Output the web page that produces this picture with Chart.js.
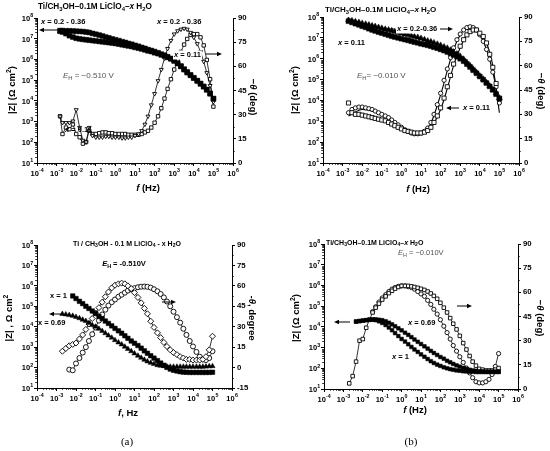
<!DOCTYPE html>
<html lang="en">
<head>
<meta charset="UTF-8">
<script src="https://cdn.jsdelivr.net/npm/chart.js"></script>
<title>Bode plots Ti / CH3OH</title>
<style>
    body { margin: 0; background: #fff; }
    .page { position: relative; width: 550px; height: 451px; overflow: hidden; }
    canvas { position: absolute; }
    .cap { position: absolute; width: 40px; margin-left: -20px; text-align: center; will-change: transform;
           font-family: 'Liberation Serif', 'Times New Roman', serif; font-size: 11px; color: #000; }
</style>
</head>
<body>
<div class="page">
    <canvas id="cTL" width="275" height="200" style="left:0;top:0"></canvas>
    <canvas id="cTR" width="275" height="200" style="left:275px;top:0"></canvas>
    <canvas id="cBL" width="275" height="200" style="left:0;top:225px"></canvas>
    <canvas id="cBR" width="275" height="200" style="left:275px;top:225px"></canvas>
    <div class="cap" style="left:127px;top:435px">(a)</div>
    <div class="cap" style="left:411px;top:435px">(b)</div>
</div>
<script>
// frequency grid of the measurements (Hz), 6 points per decade
const freq = [0.0015, 0.002, 0.003, 0.0045, 0.0068, 0.01, 0.015, 0.022, 0.032, 0.046, 0.068, 0.1,
              0.15, 0.22, 0.32, 0.46, 0.68, 1, 1.5, 2.2, 3.2, 4.6, 6.8, 10,
              15, 22, 32, 46, 68, 100, 150, 220, 320, 460, 680, 1000,
              1500, 2200, 3200, 4600, 6800, 10000, 15000, 22000, 32000, 46000, 68000, 100000];

// axis ticks
const freqTicks = [1e-4, 1e-3, 1e-2, 1e-1, 1, 10, 100, 1e3, 1e4, 1e5, 1e6];
const zTicks = [10, 100, 1e3, 1e4, 1e5, 1e6, 1e7, 1e8];
const phaseTicks = [0, 15, 30, 45, 60, 75, 90];
const phaseTicksBL = [-15, 0, 15, 30, 45, 60, 75, 90];

// (a) top: E_H = -0.510 V, |Z| (Ohm cm2), x = 0.2 - 0.36
const tlZ1 = [2.45e7, 2.45e7, 2.4e7, 2.4e7, 2.35e7, 2.3e7,
              2.25e7, 2.2e7, 2.1e7, 2.0e7, 1.8e7, 1.65e7,
              1.5e7, 1.35e7, 1.2e7, 1.1e7, 9.8e6, 8.9e6,
              8.1e6, 7.2e6, 6.6e6, 5.9e6, 5.4e6, 4.8e6,
              4.3e6, 3.8e6, 3.4e6, 3.0e6, 2.7e6, 2.4e6,
              2.1e6, 1.8e6, 1.6e6, 1.35e6, 1.1e6, 8.7e5,
              6.6e5, 4.8e5, 3.4e5, 2.5e5, 1.8e5, 1.3e5,
              9.5e4, 6.9e4, 5.0e4, 3.5e4, 2.3e4, 1.3e4];
const tlZ2 = [2.3e7, 2.1e7, 1.75e7, 1.4e7, 1.2e7, 1.05e7,
              9.8e6, 9.3e6, 8.9e6, 8.5e6, 8.1e6, 7.8e6,
              7.4e6, 7.1e6, 6.8e6, 6.5e6, 6.2e6, 5.9e6,
              5.5e6, 5.1e6, 4.8e6, 4.5e6, 4.2e6, 3.8e6,
              3.5e6, 3.2e6, 2.9e6, 2.6e6, 2.4e6, 2.1e6,
              1.9e6, 1.65e6, 1.45e6, 1.25e6, 1.07e6, 8.5e5,
              6.3e5, 4.6e5, 3.2e5, 2.3e5, 1.7e5, 1.25e5,
              9.1e4, 6.6e4, 4.8e4, 3.4e4, 2.2e4, 1.25e4];
// (a) top: -theta (deg)
const tlP1 = [29, 25, 25, 25, 26, 33,
              22, 14, 13, 22, 17, 16,
              16, 16, 16.5, 16.5, 16, 16,
              16, 15.5, 15.5, 16, 16, 17,
              18, 20, 24, 29, 36, 43,
              51, 58, 65, 71, 76, 80,
              82, 83, 83.5, 83, 81, 78,
              74, 69, 63, 56, 48, 38];
const tlP2 = [29, 18, 22, 21, 24, 18,
              16, 12, 13, 20, 18, 18,
              18.5, 19, 19, 18.5, 18.5, 18,
              18, 18, 18, 17.5, 17.5, 17.5,
              17.5, 18, 19, 20, 22, 25,
              29, 34, 40, 46, 52, 58,
              64, 69, 73.5, 77, 79.5, 80,
              80, 78, 73, 64, 52, 35];

// (b) top: E_H = -0.010 V, |Z|: x = 0.11 and x = 0.2-0.36
const trZ1 = [null, 7.1e7, 6.6e7, 6.0e7, 5.5e7, 5.0e7,
              4.6e7, 4.2e7, 3.8e7, 3.5e7, 3.2e7, 2.9e7,
              2.6e7, 2.4e7, 2.2e7, 2.0e7, 1.8e7, 1.65e7,
              1.5e7, 1.4e7, 1.25e7, 1.15e7, 1.05e7, 9.5e6,
              8.3e6, 7.1e6, 6.5e6, 5.8e6, 5.0e6, 4.4e6,
              3.7e6, 3.2e6, 2.6e6, 2.1e6, 1.7e6, 1.3e6,
              9.5e5, 6.6e5, 4.6e5, 3.2e5, 2.2e5, 1.5e5,
              1.05e5, 7.2e4, 5.0e4, 3.3e4, 2.2e4, 1.3e4];
const trZ2 = [null, 6.3e7, 5.5e7, 4.8e7, 4.2e7, 3.6e7,
              3.2e7, 2.75e7, 2.4e7, 2.15e7, 1.9e7, 1.7e7,
              1.5e7, 1.35e7, 1.2e7, 1.1e7, 1.0e7, 9.1e6,
              8.3e6, 7.6e6, 6.9e6, 6.3e6, 5.8e6, 5.2e6,
              4.8e6, 4.4e6, 4.0e6, 3.55e6, 3.2e6, 2.8e6,
              2.45e6, 2.1e6, 1.8e6, 1.5e6, 1.25e6, 1.0e6,
              7.6e5, 5.5e5, 4.0e5, 2.8e5, 2.0e5, 1.4e5,
              9.8e4, 6.8e4, 4.7e4, 3.2e4, 2.0e4, 1.2e4];
const trP1 = [null, 37, 31, 30, 30, 29.5,
              29, 28.5, 28, 27.5, 27, 26.5,
              26, 25, 24, 23, 22, 21,
              20, 19.5, 19, 18.5, 18.5, 18.5,
              19, 20, 22, 25, 29, 34,
              40, 47, 54, 61, 67, 72,
              76, 79, 81, 82, 82, 80,
              78, 74, 67, 59, 49, 40];
const trP2 = [null, 31, 33, 34, 34.5, 34.5,
              34, 33.5, 33, 32, 31, 30,
              29, 28, 26.5, 25, 23.5, 22,
              20.5, 19.5, 18.5, 18, 18, 18.5,
              19.5, 21.5, 25, 30, 36, 43,
              51, 58, 65, 71, 76, 79.5,
              82, 83.5, 84, 83.5, 82, 79,
              75, 70, 64, 56, 47, 37];
// fitted phase curves
const trFitF = [0.002, 0.01, 0.046, 0.22, 1, 4.6, 22, 100, 220, 460, 1000, 2200, 4600, 10000, 22000, 46000, 100000];
const trFit1 = [31, 29.5, 27.5, 25, 21, 18.5, 20, 33, 46, 60, 71, 79, 82, 80, 74, 60, 31];
const trFit2 = [29, 33, 31.5, 27.5, 22, 18, 21, 42, 57, 70, 79, 83.5, 84, 79, 70, 56, 36];

// (a) bottom: E_H = -0.510 V, |Z|: x = 1 and x = 0.69
const blZ1 = [null, null, null, null, 3.2e5, 2.4e5,
              1.75e5, 1.35e5, 1.0e5, 7.8e4, 5.9e4, 4.5e4,
              3.2e4, 2.5e4, 1.9e4, 1.45e4, 1.1e4, 8.3e3,
              6.3e3, 4.8e3, 3.6e3, 2.7e3, 2.0e3, 1.55e3,
              1.2e3, 890, 660, 500, 380, 290,
              220, 166, 130, 102, 85, 74,
              68, 63, 60, 59, 58, 58,
              58, 58, 58, 58, 58, 59];
const blZ2 = [null, 4.2e4, 4.0e4, 3.7e4, 3.4e4, 3.0e4,
              2.6e4, 2.2e4, 1.9e4, 1.5e4, 1.2e4, 1.0e4,
              7.9e3, 6.2e3, 4.8e3, 3.7e3, 2.9e3, 2.2e3,
              1.7e3, 1.35e3, 1.05e3, 810, 630, 490,
              380, 300, 240, 200, 170, 150,
              130, 123, 117, 112, 110, 110,
              110, 110, 110, 110, 110, 110,
              110, 110, 110, 112, 115, 117];
// -theta (degree)
const blP1 = [null, 12, 14, 16, 17, 18,
              21, 24, 28, 32, 36, 40,
              44, 48, 52, 55.5, 58.5, 60.5,
              61.5, 62, 61.5, 60, 58, 55,
              51.5, 47.5, 43.5, 39.5, 34, 29.5,
              25.5, 22, 18.5, 15.5, 13, 11,
              9.5, 8, 7, 6, 6, 5.5,
              5.5, 5.5, 6, 8, 13, 23];
const blP2 = [null, null, null, -1.5, -2, 3,
              7, 11, 15, 19.5, 24.5, 29.5,
              34.5, 39, 42.5, 45.5, 48, 50,
              52, 53.5, 55, 56.5, 57.5, 58.3,
              59, 59.4, 59.5, 59.3, 58.7, 57.5,
              56, 54, 51.5, 48.5, 45, 41,
              37, 33, 28.5, 24, 19.5, 15.5,
              11.5, 8, 6, 5.5, 7, 12];

// (b) bottom: E_H = -0.010 V, |Z|: x = 0.69 and x = 1
const brZ1 = [null, null, null, 1.8e4, 1.9e4, 2.0e4,
              2.1e4, 2.2e4, 2.3e4, 2.3e4, 2.2e4, 2.1e4,
              1.86e4, 1.58e4, 1.32e4, 1.07e4, 8.5e3, 6.8e3,
              5.2e3, 4.1e3, 3.2e3, 2.45e3, 1.9e3, 1.48e3,
              1.15e3, 890, 690, 550, 440, 350,
              290, 230, 195, 162, 138, 120,
              105, 93, 85, 79, 76, 72,
              71, 69, 69, 69, 69, 69];
const brZ2 = [null, null, null, 1.8e4, 1.9e4, 2.0e4,
              2.1e4, 2.2e4, 2.2e4, 2.1e4, 1.86e4, 1.55e4,
              1.23e4, 9.3e3, 6.9e3, 5.0e3, 3.6e3, 2.6e3,
              1.95e3, 1.45e3, 1.07e3, 810, 620, 470,
              360, 280, 220, 180, 150, 130,
              112, 100, 91, 85, 79, 76,
              72, 71, 69, 68, 66, 66,
              66, 66, 66, 66, 66, 66];
const brP1 = [null, 3.5, 8, 17, 30, 31,
              38, 43, 47.5, 50.5, 53, 55.5,
              57.5, 59.5, 61, 62.3, 63.3, 64,
              64, 64, 63.7, 63.3, 62.8, 62.2,
              61.5, 60.5, 59.3, 57.8, 56, 53.5,
              50.5, 47.5, 44, 40.5, 37, 33,
              28.5, 24.5, 20.5, 17, 14.5, 12.5,
              12, 11.5, 11.5, 11.5, 12, 13];
const brP2 = [null, null, null, null, null, null,
              null, null, 48, 51, 54, 56.5,
              58.5, 60.5, 62, 63, 63.7, 64,
              64, 63.5, 63, 62, 60.5, 59,
              57.5, 55, 52.5, 49.5, 46.5, 43,
              39, 35, 31, 27, 23.5, 20,
              16.5, 13, 10, 7, 4.5, 3.8,
              3.8, 4.5, 6, 9, 14, 22];

const FONT = "'Liberation Sans', Arial, Helvetica, sans-serif";
Chart.defaults.font.family = FONT;
Chart.defaults.color = '#000';

function pts(f, v) {
    return f.map((x, i) => ({ x: x, y: v[i] })).filter(p => p.y !== null);
}

// filled |Z| markers
function zSet(vals, style, r) {
    return { data: pts(freq, vals), yAxisID: 'y', showLine: false, pointStyle: style, pointRadius: r,
             pointBackgroundColor: '#000', pointBorderColor: '#000', pointBorderWidth: 0.5 };
}
// open phase markers
function pSet(vals, style, r, line, rot) {
    return { data: pts(freq, vals), yAxisID: 'y2', showLine: line, borderColor: '#000', borderWidth: 0.8,
             pointStyle: style, pointRadius: r, pointRotation: rot || 0, pointBackgroundColor: '#fff',
             pointBorderColor: '#000', pointBorderWidth: 0.9, tension: 0 };
}
function fitSet(f, vals) {
    return { data: pts(f, vals), yAxisID: 'y2', showLine: true, borderColor: '#000', borderWidth: 1.1,
             pointRadius: 0, cubicInterpolationMode: 'monotone' };
}

// text with italic / sub / superscript parts
function rich(c, parts, x, y, o) {
    const size = o.size || 8;
    const font = f => (f.includes('i') ? 'italic ' : '') + (o.weight || 'bold') + ' ' +
        ((f.includes('s') || f.includes('p')) ? size * 0.72 : size) + 'px ' + FONT;
    let total = 0;
    parts.forEach(([t, f = '']) => { c.font = font(f); total += c.measureText(t).width; });
    c.save();
    c.translate(x, y);
    if (o.rot) c.rotate(o.rot);
    let cx = o.align === 'center' ? -total / 2 : (o.align === 'right' ? -total : 0);
    if (o.bg) {
        c.fillStyle = '#fff';
        c.fillRect(cx - 1, -size * 0.6, total + 2, size * 1.2);
    }
    c.fillStyle = o.color || '#000';
    c.textBaseline = 'middle';
    c.textAlign = 'left';
    parts.forEach(([t, f = '']) => {
        c.font = font(f);
        const dy = f.includes('s') ? size * 0.3 : (f.includes('p') ? -size * 0.35 : 0);
        c.fillText(t, cx, dy);
        cx += c.measureText(t).width;
    });
    c.restore();
}

// "10" with a raised exponent, for the log axes
function powLabel(c, v, x, y, align) {
    const e = String(Math.round(Math.log10(v)));
    c.font = 'bold 7.5px ' + FONT;
    const w1 = c.measureText('10').width;
    c.font = 'bold 5.3px ' + FONT;
    const w2 = c.measureText(e).width;
    const x0 = align === 'center' ? x - (w1 + w2) / 2 : x - w1 - w2;
    c.fillStyle = '#000';
    c.textBaseline = 'middle';
    c.textAlign = 'left';
    c.font = 'bold 7.5px ' + FONT;
    c.fillText('10', x0, y + 0.8);
    c.font = 'bold 5.3px ' + FONT;
    c.fillText(e, x0 + w1 + 0.2, y - 2.2);
}

function arrow(c, x1, y, x2) {
    const d = Math.sign(x2 - x1);
    c.save();
    c.strokeStyle = '#000'; c.fillStyle = '#000'; c.lineWidth = 1;
    c.beginPath(); c.moveTo(x1, y); c.lineTo(x2 - d * 4, y); c.stroke();
    c.beginPath(); c.moveTo(x2, y); c.lineTo(x2 - d * 5, y - 2.2); c.lineTo(x2 - d * 5, y + 2.2); c.closePath(); c.fill();
    c.restore();
}

const titleTop = [['Ti/CH'], ['3', 's'], ['OH–0.1M LiClO'], ['4', 's'], ['–'], ['x', 'i'], [' H'], ['2', 's'], ['O']];
const zTitle = [['|Z| (Ω cm'], ['2', 'p'], [')']];
const thTitle = [['−'], ['θ', 'i'], [' (deg)']];
const fTitle = [['f', 'i'], [' (Hz)']];
const UP = -Math.PI / 2, DOWN = Math.PI / 2;

const noteFns = {
    cTL(c) {
        rich(c, titleTop, 38, 7, { size: 8.2 });
        rich(c, [['x', 'i'], [' = 0.2 - 0.36']], 41, 22, { size: 7.5 });
        arrow(c, 57, 30, 39);
        rich(c, [['x', 'i'], [' = 0.2 - 0.36']], 157, 22, { size: 7.5 });
        rich(c, [['x', 'i'], [' = 0.11']], 174, 55, { size: 7.5, bg: true });
        arrow(c, 206, 54, 222);
        rich(c, [['E', 'i'], ['H', 's'], [' = −0.510 V']], 63, 76, { size: 8, weight: 'normal', color: '#555' });
        rich(c, [['x', 'i'], [' = 0.11']], 65, 130, { size: 7.5 });
        rich(c, zTitle, 12, 90, { size: 9.5, rot: UP, align: 'center' });
        rich(c, thTitle, 253, 97, { size: 9.5, rot: DOWN, align: 'center' });
        rich(c, fTitle, 148, 188, { size: 9.5, align: 'center' });
    },
    cTR(c) {
        rich(c, titleTop, 50, 10, { size: 8 });
        arrow(c, 119, 29, 106);
        rich(c, [['x', 'i'], [' = 0.2-0.36']], 122, 29, { size: 7.5, bg: true });
        arrow(c, 165, 29, 178);
        rich(c, [['x', 'i'], [' = 0.11']], 63, 43, { size: 7.5 });
        rich(c, [['E', 'i'], ['H', 's'], ['= −0.010 V']], 82, 76, { size: 8, weight: 'normal', color: '#555' });
        arrow(c, 184, 108, 171);
        rich(c, [['x', 'i'], [' = 0.11']], 188, 108, { size: 7.5 });
        rich(c, zTitle, 20, 90, { size: 9.5, rot: UP, align: 'center' });
        rich(c, thTitle, 266, 91, { size: 9.5, rot: DOWN, align: 'center' });
        rich(c, fTitle, 143, 189, { size: 9.5, align: 'center' });
    },
    cBL(c) {
        rich(c, [['Ti / CH'], ['3', 's'], ['OH - 0.1 M LiClO'], ['4', 's'], [' - x H'], ['2', 's'], ['O']], 127, 19, { size: 7, align: 'center' });
        rich(c, [['E', 'i'], ['H', 's'], [' = -0.510V']], 124, 39, { size: 7.5, align: 'center' });
        rich(c, [['x = 1']], 50, 71, { size: 7.5 });
        arrow(c, 63, 89, 49);
        rich(c, [['x = 0.69']], 38, 98, { size: 7.5 });
        arrow(c, 162, 77, 176);
        rich(c, [['|Z| , Ω cm'], ['2', 'p']], 9, 93, { size: 9.5, rot: UP, align: 'center' });
        rich(c, [['-'], ['θ', 'i'], [', degree']], 252, 93, { size: 9.5, rot: DOWN, align: 'center' });
        rich(c, [['f', 'i'], [', Hz']], 128, 188, { size: 9.5, align: 'center' });
    },
    cBR(c) {
        rich(c, titleTop, 51, 18, { size: 7 });
        rich(c, [['E', 'i'], ['H', 's'], [' = −0.010V']], 123, 28, { size: 7.5, weight: 'normal', color: '#555' });
        arrow(c, 75, 97, 59);
        rich(c, [['x', 'i'], [' = 0.69']], 133, 98, { size: 7.5 });
        rich(c, [['x', 'i'], [' = 1']], 117, 132, { size: 7.5 });
        arrow(c, 182, 81, 197);
        rich(c, zTitle, 21, 93, { size: 9.5, rot: UP, align: 'center' });
        rich(c, thTitle, 265, 93, { size: 9.5, rot: DOWN, align: 'center' });
        rich(c, fTitle, 140, 185, { size: 9.5, align: 'center' });
    }
};

// minor ticks, log tick labels and annotation texts
const notes = {
    id: 'notes',
    afterDraw(chart) {
        const c = chart.ctx, a = chart.chartArea;
        const sx = chart.scales.x, sy = chart.scales.y, s2 = chart.scales.y2;
        c.save();
        c.strokeStyle = '#000';
        c.lineWidth = 0.8;
        c.beginPath();
        for (let d = -4; d < 6; d++) {
            for (let k = 2; k < 10; k++) {
                const px = Math.round(sx.getPixelForValue(k * Math.pow(10, d))) + 0.5;
                c.moveTo(px, a.bottom); c.lineTo(px, a.bottom + 1.8);
            }
        }
        for (let d = 1; d < 8; d++) {
            for (let k = 2; k < 10; k++) {
                const py = Math.round(sy.getPixelForValue(k * Math.pow(10, d))) + 0.5;
                c.moveTo(a.left, py); c.lineTo(a.left - 1.8, py);
            }
        }
        for (let v = s2.min + 7.5; v < s2.max; v += 15) {
            const py = Math.round(s2.getPixelForValue(v)) + 0.5;
            c.moveTo(a.right, py); c.lineTo(a.right + 1.8, py);
        }
        c.stroke();
        freqTicks.forEach(v => powLabel(c, v, sx.getPixelForValue(v), a.bottom + 10, 'center'));
        zTicks.forEach(v => powLabel(c, v, a.left - 4, sy.getPixelForValue(v), 'right'));
        c.restore();
        noteFns[chart.canvas.id](c, chart);
    }
};

function build(id, L, pTicks, datasets) {
    const tickFont = { family: FONT, size: 7.8, weight: 'bold' };
    const grid = { display: true, drawOnChartArea: false, drawTicks: true, tickLength: 3, color: '#000', lineWidth: 1 };
    const border = { display: true, color: '#000', width: 1 };
    return new Chart(document.getElementById(id), {
        type: 'line',
        data: { datasets: datasets },
        options: {
            responsive: false,
            animation: false,
            events: [],
            layout: { padding: { top: L.padTop, left: 0, right: 0, bottom: 0 } },
            plugins: { legend: { display: false }, tooltip: { enabled: false } },
            scales: {
                x: {
                    type: 'logarithmic', position: 'bottom', min: freqTicks[0], max: freqTicks[freqTicks.length - 1],
                    afterBuildTicks: s => { s.ticks = freqTicks.map(v => ({ value: v })); },
                    afterFit: s => { s.height = L.xH; },
                    ticks: { display: false },
                    grid: grid, border: border
                },
                y: {
                    type: 'logarithmic', position: 'left', min: zTicks[0], max: zTicks[zTicks.length - 1],
                    afterBuildTicks: s => { s.ticks = zTicks.map(v => ({ value: v })); },
                    afterFit: s => { s.width = L.yW; },
                    ticks: { display: false },
                    grid: grid, border: border
                },
                y2: {
                    type: 'linear', position: 'right', min: pTicks[0], max: pTicks[pTicks.length - 1],
                    afterBuildTicks: s => { s.ticks = pTicks.map(v => ({ value: v })); },
                    afterFit: s => { s.width = L.y2W; },
                    ticks: { font: tickFont, color: '#000', padding: 2, autoSkip: false, callback: v => String(v) },
                    grid: grid, border: border
                }
            }
        },
        plugins: [notes]
    });
}

build('cTL', { padTop: 18, yW: 37, y2W: 42, xH: 37 }, phaseTicks, [
    zSet(tlZ1, 'rect', 3.4),
    zSet(tlZ2, 'rect', 3.4),
    pSet(tlP1, 'triangle', 2.3, true, 180),
    pSet(tlP2, 'rect', 2.4, true)
]);

build('cTR', { padTop: 17, yW: 48, y2W: 31, xH: 37 }, phaseTicks, [
    zSet(trZ1, 'triangle', 3.4),
    zSet(trZ2, 'rect', 3.4),
    pSet(trP1, 'rect', 2.9, false),
    pSet(trP2, 'circle', 2.1, false),
    fitSet(trFitF, trFit1),
    fitSet(trFitF, trFit2)
]);

build('cBL', { padTop: 20, yW: 37, y2W: 43, xH: 37 }, phaseTicksBL, [
    zSet(blZ1, 'rect', 3.2),
    zSet(blZ2, 'triangle', 3.0),
    pSet(blP1, 'rectRot', 3.0, true),
    pSet(blP2, 'circle', 2.5, true)
]);

build('cBR', { padTop: 19, yW: 49, y2W: 32, xH: 36 }, phaseTicks, [
    zSet(brZ1, 'rect', 2.6),
    zSet(brZ2, 'rect', 2.6),
    pSet(brP1, 'rect', 2.5, true),
    pSet(brP2, 'circle', 2.1, true)
]);
</script>
</body>
</html>
